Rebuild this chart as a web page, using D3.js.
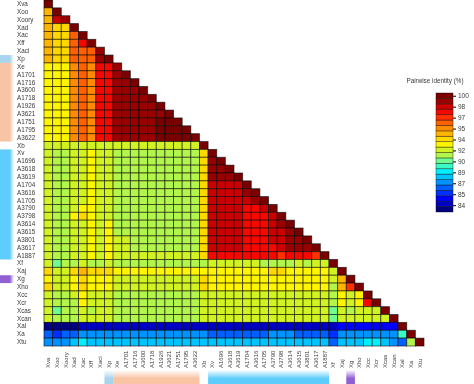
<!DOCTYPE html>
<html>
<head>
<meta charset="utf-8">
<script src="https://cdn.jsdelivr.net/npm/d3@7"></script>
<style>
  html, body { margin: 0; padding: 0; background: #fff; }
  svg { display: block; font-family: "Liberation Sans", Arial, sans-serif; filter: blur(0.35px); }
  text { fill: #3a3a3a; }
</style>
</head>
<body>
<div id="chart"></div>
<script>
const taxa = ["Xva","Xoo","Xoory","Xad","Xac","Xff","Xaci","Xp","Xe","A1701","A1716","A3600","A1718","A1926","A3621","A1751","A1795","A3622","Xb","Xv","A1696","A3618","A3619","A1704","A3616","A1705","A3790","A3798","A3614","A3615","A3801","A3617","A1887","Xf","Xaj","Xg","Xho","Xcc","Xcr","Xcas","Xcan","Xal","Xa","Xtu"];

// lower triangle, pairwise identity (%), one row per taxon
const identity = [
[100],
[94.5,100],
[94.5,98.4,99.2],
[94.5,93.7,93.7,100],
[94.5,93.7,93.7,96,100],
[94.5,93.7,93.7,96,97.6,100],
[94.5,93.7,93.7,96,96,96,99.2],
[94.5,93.7,93.7,96,96,96,99.2,100],
[92.9,92.9,92.9,95.2,96,95.2,97.6,97.6,99.2],
[92.9,92.9,92.9,95.2,96,95.2,97.6,97.6,99.2,100],
[92.9,92.9,92.9,95.2,96,95.2,97.6,97.6,99.2,99.2,100],
[92.9,92.9,92.9,95.2,96,95.2,97.6,97.6,99.2,99.2,99.2,100],
[92.9,92.9,92.9,95.2,96,95.2,97.6,97.6,99.2,99.2,99.2,99.2,100],
[92.9,92.9,92.9,95.2,96,95.2,97.6,97.6,99.2,99.2,99.2,99.2,99.2,100],
[92.9,92.9,92.9,95.2,96,95.2,97.6,97.6,99.2,99.2,99.2,99.2,99.2,99.2,100],
[92.9,92.9,92.9,95.2,96,95.2,97.6,97.6,99.2,99.2,99.2,99.2,99.2,100,100,100],
[92.9,92.9,92.9,95.2,96,95.2,97.6,97.6,99.2,99.2,99.2,99.2,99.2,100,100,100,100],
[92.9,92.9,92.9,95.2,96,95.2,97.6,97.6,99.2,99.2,99.2,99.2,99.2,100,100,100,100,100],
[92.1,92.1,92.1,92.1,92.1,92.1,92.1,92.1,92.1,92.1,92.1,92.1,92.1,92.1,92.1,92.1,92.1,92.1,100],
[92.1,91.3,91.3,92.1,92.1,92.9,92.1,92.1,91.3,91.3,91.3,91.3,91.3,91.3,91.3,91.3,91.3,91.3,93.7,100],
[92.1,91.3,91.3,92.1,92.1,92.9,92.1,92.1,91.3,91.3,91.3,91.3,91.3,91.3,91.3,91.3,91.3,91.3,93.7,99.2,100],
[92.1,91.3,91.3,92.1,92.1,92.9,92.1,92.1,91.3,91.3,91.3,91.3,91.3,91.3,91.3,91.3,91.3,91.3,93.7,99.2,99.2,100],
[92.1,91.3,91.3,92.1,92.1,92.9,92.1,92.1,91.3,91.3,91.3,91.3,91.3,91.3,91.3,91.3,91.3,91.3,93.7,99.2,99.2,99.2,100],
[92.1,91.3,91.3,92.1,92.1,92.9,92.1,92.1,91.3,91.3,91.3,91.3,91.3,91.3,91.3,91.3,91.3,91.3,93.7,98.4,98.4,98.4,98.4,100],
[92.1,91.3,91.3,92.1,92.1,92.9,92.1,92.1,91.3,91.3,91.3,91.3,91.3,91.3,91.3,91.3,91.3,91.3,93.7,98.4,98.4,98.4,98.4,99.2,100],
[92.1,91.3,91.3,92.1,92.1,92.9,92.1,92.1,91.3,91.3,91.3,91.3,91.3,91.3,91.3,91.3,91.3,91.3,93.7,98.4,98.4,98.4,98.4,98.4,99.2,100],
[92.1,91.3,91.3,92.1,92.9,92.9,92.1,92.1,91.3,91.3,91.3,91.3,91.3,91.3,91.3,91.3,91.3,91.3,93.7,98.4,98.4,98.4,98.4,97.6,97.6,98.4,100],
[92.1,91.3,91.3,92.9,93.7,92.9,92.1,92.1,91.3,91.3,91.3,91.3,91.3,91.3,91.3,91.3,91.3,91.3,93.7,98.4,98.4,98.4,98.4,97.6,97.6,97.6,98.4,100],
[92.1,91.3,91.3,92.1,92.1,92.9,92.1,92.9,91.3,91.3,91.3,91.3,91.3,91.3,91.3,91.3,91.3,91.3,93.7,98.4,98.4,98.4,98.4,97.6,97.6,97.6,98.4,99.2,100],
[92.1,91.3,91.3,92.1,92.1,92.9,92.1,92.9,91.3,91.3,91.3,91.3,91.3,91.3,91.3,91.3,91.3,91.3,93.7,98.4,98.4,98.4,98.4,97.6,97.6,97.6,98.4,98.4,99.2,100],
[92.1,91.3,91.3,92.1,92.1,92.9,92.1,92.9,92.1,92.1,91.3,91.3,91.3,91.3,91.3,91.3,91.3,91.3,93.7,98.4,98.4,98.4,98.4,97.6,97.6,97.6,98.4,98.4,99.2,99.2,100],
[92.1,91.3,91.3,92.1,92.1,92.9,92.1,92.9,92.1,92.1,91.3,91.3,91.3,91.3,91.3,91.3,91.3,91.3,93.7,98.4,98.4,98.4,98.4,97.6,97.6,97.6,97.6,98.4,99.2,99.2,99.2,100],
[92.1,91.3,91.3,92.1,92.1,92.9,92.1,92.9,92.1,92.1,92.1,92.1,92.1,92.1,92.1,92.1,92.1,92.1,93.7,97.6,97.6,97.6,97.6,97.6,97.6,97.6,97.6,96.8,97.6,97.6,97.6,96.8,100],
[92.1,90.5,91.3,91.3,92.1,91.3,91.3,92.1,91.3,91.3,91.3,91.3,91.3,91.3,91.3,91.3,91.3,91.3,91.3,92.1,92.1,92.1,92.1,92.1,92.1,91.3,91.3,91.3,91.3,92.1,91.3,92.1,92.1,100],
[93.7,92.1,92.1,93.7,94.5,93.7,93.7,93.7,92.9,92.9,92.9,92.9,92.9,92.9,92.9,92.9,92.9,92.9,92.9,92.9,92.9,92.9,92.9,92.9,92.9,92.9,93.7,93.7,92.9,92.9,92.9,92.9,92.9,92.1,100],
[92.9,92.1,92.1,92.9,93.7,92.9,92.9,92.9,92.1,92.1,92.1,92.1,92.1,92.1,92.1,92.1,92.1,92.1,93.7,92.9,92.9,92.9,92.9,92.9,92.9,92.9,92.9,92.9,92.9,92.9,92.9,92.9,92.9,92.1,94.5,100],
[93.7,92.1,92.1,92.9,93.7,92.9,92.9,92.9,92.1,92.1,92.1,92.1,92.1,92.1,92.1,92.1,92.1,92.1,93.7,92.9,92.9,92.9,92.9,92.9,92.9,92.9,92.9,92.9,92.9,92.9,92.9,92.9,92.9,91.3,94.5,96.8,100],
[92.1,91.3,91.3,92.1,92.9,92.1,92.1,92.1,91.3,91.3,91.3,91.3,91.3,91.3,91.3,91.3,91.3,91.3,92.1,92.1,92.1,92.1,92.1,92.1,92.1,92.1,92.1,92.1,92.1,92.1,92.1,92.1,92.1,91.3,92.9,92.1,92.9,100],
[92.1,91.3,91.3,91.3,92.9,92.1,92.1,92.1,91.3,91.3,91.3,91.3,91.3,91.3,91.3,91.3,91.3,91.3,92.1,92.1,92.1,92.1,92.1,92.1,92.1,92.1,92.1,92.1,92.1,92.1,92.1,92.1,92.1,91.3,92.9,92.1,92.9,97.6,100],
[92.1,90.5,91.3,91.3,92.1,91.3,92.1,92.1,91.3,91.3,91.3,91.3,91.3,91.3,91.3,91.3,91.3,91.3,92.1,92.1,92.1,92.1,92.1,92.1,92.1,92.1,92.1,92.1,92.1,92.1,92.1,92.1,92.1,90.5,92.1,91.3,92.1,92.1,92.1,100],
[92.1,91.3,91.3,91.3,92.1,92.1,92.1,92.1,91.3,91.3,91.3,91.3,91.3,91.3,91.3,91.3,91.3,91.3,92.1,92.1,92.1,92.1,92.1,92.1,92.1,92.1,92.1,92.1,92.1,92.1,92.1,92.1,92.1,90.5,92.1,92.1,92.1,92.1,92.1,92.1,100],
[83.4,83.4,83.4,83.4,84.2,84.2,84.2,84.2,84.2,84.2,84.2,84.2,84.2,84.2,84.2,84.2,84.2,84.2,84.2,84.2,84.2,84.2,84.2,84.2,84.2,84.2,84.2,84.2,84.2,84.2,84.2,84.2,84.2,84.2,85,85,85,85,85,85,85,100],
[86.5,85.8,86.5,86.5,87.3,87.3,87.3,87.3,87.3,87.3,87.3,87.3,87.3,87.3,87.3,87.3,87.3,87.3,87.3,86.5,86.5,86.5,86.5,86.5,86.5,86.5,87.3,87.3,87.3,86.5,86.5,86.5,86.5,85.8,87.3,87.3,87.3,87.3,87.3,87.3,87.3,89.7,100],
[87.3,87.3,87.3,88.1,88.9,88.1,88.1,88.1,88.1,88.1,88.1,88.1,88.1,88.1,88.1,88.1,88.1,88.1,88.1,88.1,88.1,88.1,88.1,88.1,88.1,88.1,88.1,88.1,88.1,88.1,88.1,88.1,88.1,86.5,88.1,88.1,88.1,88.9,88.9,88.1,87.3,86.5,91.3,100]
];

// legend colour bands, top (100) to bottom
const bandColors = ["#7a0000","#9a0000","#cc0000","#f40800","#ff3000","#ff6000","#ff8c00","#ffb400","#ffd800","#fff500","#d2f322","#b2f64c","#70fc90","#38fcc4","#00f0ff","#00c4ff","#0092ff","#0060ff","#0030ff","#0000ff","#0000c4","#000080"];

const legendTicks = [100,98.4,96.8,95.2,93.6,92,90.4,88.8,87.2,85.6,84];
const legendTickLabels = ["100","98","97","95","94","92","90","89","87","85","84"];

// coloured group strips beside the axes
const strips = [
  { from: "Xp", to: "Xp", color: "#a9d4ee" },
  { from: "Xe", to: "A3622", color: "#f8c4a4" },
  { from: "Xv", to: "A1887", color: "#5fcdfb" },
  { from: "Xg", to: "Xg", color: "#8f5fd3" }
];

const width = 474, height = 384;

const svg = d3.select("#chart").append("svg")
  .attr("width", width)
  .attr("height", height);

const x = d3.scaleBand().domain(taxa).range([44, 424]);
const y = d3.scaleBand().domain(taxa).range([0, 346]);
const color = d3.scaleQuantize().domain([83, 100.4]).range(bandColors.slice().reverse());

// Heatmap cells
const cells = identity.flatMap((row, i) => row.map((v, j) => ({ row: taxa[i], col: taxa[j], v })));

svg.append("g").selectAll("rect")
  .data(cells)
  .join("rect")
  .attr("x", d => x(d.col))
  .attr("y", d => y(d.row))
  .attr("width", x.bandwidth())
  .attr("height", y.bandwidth())
  .attr("fill", d => color(d.v))
  .attr("stroke", "#000")
  .attr("stroke-opacity", 0.62)
  .attr("stroke-width", 0.9);

// Axis labels
const yAxis = svg.append("g")
  .attr("transform", "translate(44,0)")
  .call(d3.axisLeft(y).tickSize(0));
yAxis.select(".domain").remove();
yAxis.selectAll("text")
  .attr("x", -27)
  .attr("text-anchor", "start")
  .style("font-size", "6.3px")
  .style("font-family", "inherit");

const xAxis = svg.append("g")
  .attr("transform", "translate(0,346)")
  .call(d3.axisBottom(x).tickSize(0));
xAxis.select(".domain").remove();
xAxis.selectAll("text")
  .attr("transform", "rotate(-90)")
  .attr("x", -22)
  .attr("y", 0)
  .attr("dy", "0.32em")
  .attr("text-anchor", "start")
  .style("font-size", "6px")
  .style("font-family", "inherit");

// Group strips, fading towards the labels
const defs = svg.append("defs");
strips.forEach((s, i) => {
  const left = defs.append("linearGradient").attr("id", `left${i}`);
  left.append("stop").attr("offset", "0%").attr("stop-color", s.color);
  left.append("stop").attr("offset", "70%").attr("stop-color", s.color);
  left.append("stop").attr("offset", "100%").attr("stop-color", "#fff");

  const bottom = defs.append("linearGradient").attr("id", `bottom${i}`)
    .attr("x1", 0).attr("x2", 0).attr("y1", 0).attr("y2", 1);
  bottom.append("stop").attr("offset", "0%").attr("stop-color", "#fff");
  bottom.append("stop").attr("offset", "60%").attr("stop-color", s.color);
  bottom.append("stop").attr("offset", "100%").attr("stop-color", s.color);

  svg.append("rect")
    .attr("x", 0)
    .attr("y", y(s.from))
    .attr("width", 14)
    .attr("height", y(s.to) + y.bandwidth() - y(s.from))
    .attr("fill", `url(#left${i})`);

  svg.append("rect")
    .attr("x", x(s.from))
    .attr("y", 370)
    .attr("width", x(s.to) + x.bandwidth() - x(s.from))
    .attr("height", 14)
    .attr("fill", `url(#bottom${i})`);
});

// Colour legend
const legendScale = d3.scaleLinear().domain([83, 100.4]).range([212, 93]);
const legend = svg.append("g");

legend.selectAll("rect")
  .data(color.range())
  .join("rect")
  .attr("x", 436)
  .attr("y", d => legendScale(color.invertExtent(d)[1]))
  .attr("width", 17)
  .attr("height", d => legendScale(color.invertExtent(d)[0]) - legendScale(color.invertExtent(d)[1]))
  .attr("fill", d => d)
  .attr("stroke", "#000")
  .attr("stroke-opacity", 0.55)
  .attr("stroke-width", 0.7);

const legendAxis = legend.append("g")
  .attr("transform", "translate(453,0)")
  .call(d3.axisRight(legendScale)
    .tickValues(legendTicks)
    .tickFormat((d, i) => legendTickLabels[i])
    .tickSize(3)
    .tickPadding(2));
legendAxis.select(".domain").remove();
legendAxis.selectAll("text")
  .style("font-size", "6.5px")
  .style("font-family", "inherit");

legend.append("text")
  .attr("x", 435)
  .attr("y", 83)
  .attr("text-anchor", "middle")
  .style("font-size", "6.3px")
  .text("Pairwise identity (%)");
</script>
</body>
</html>
